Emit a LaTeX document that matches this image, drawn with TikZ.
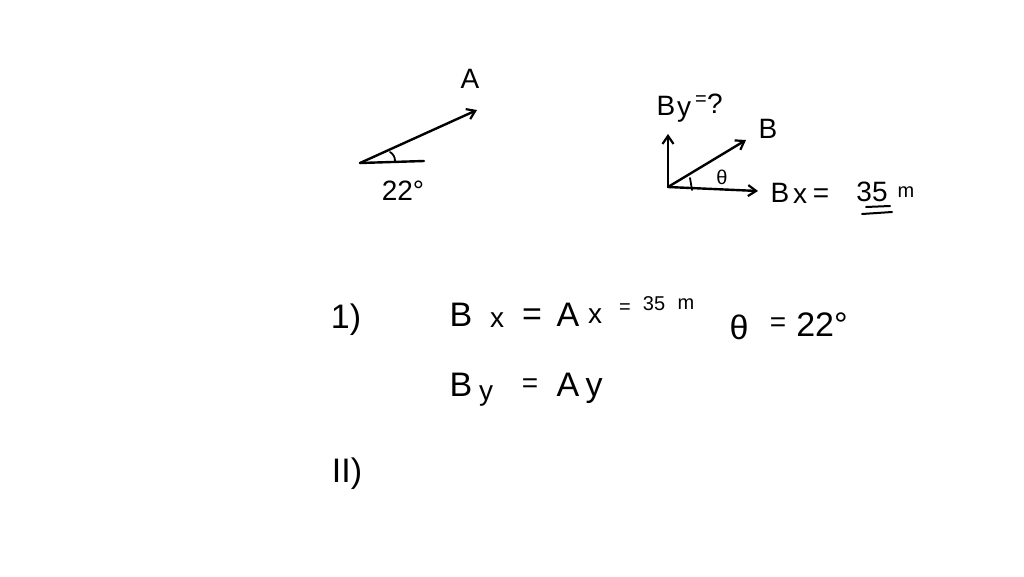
\documentclass[tikz,border=0pt]{standalone}
\usepackage{fontspec}
\setmainfont{Liberation Sans}
\usetikzlibrary{arrows.meta}
\tikzset{
  pen/.style={line width=2.4pt, line cap=round, line join=round, black},
  vec/.style={pen, -{Straight Barb[length=8pt,width=11pt,line width=2.2pt]}},
  big/.style={inner sep=0pt, font=\fontsize{34}{36}\selectfont},
  mid/.style={inner sep=0pt, font=\fontsize{28}{30}\selectfont},
  sml/.style={inner sep=0pt, font=\fontsize{20}{22}\selectfont},
}
\begin{document}
\begin{tikzpicture}[x=1pt,y=-1pt]
\useasboundingbox[fill=white] (0,0) rectangle (1024,576);

% ---- vector A ----
\coordinate (Ao) at (360,163);
\coordinate (Ahead) at (477,110);
\coordinate (Aref) at (424,161);
\draw[vec] (Ao) -- (Ahead);
\draw[pen] (Ao) -- (Aref);
\draw[pen, line width=1.8pt] (390,152) arc[start angle=60, end angle=-5, radius=10pt];
\node[mid] (lblA) at (470,79) {A};
\node[mid] (ang) at (403,191) {22°};

% ---- vector B ----
\coordinate (Bo) at (668,187);
\coordinate (Byh) at (668,134);
\coordinate (Bxh) at (758,191);
\coordinate (Bh) at (746,140);
\draw[vec] (Bo) -- (Byh);
\draw[vec] (Bo) -- (Bxh);
\draw[vec] (Bo) -- (Bh);
\draw[pen, line width=1.8pt] (690,178) -- (692,190);
\node[mid] (lblBy) at (666,106) {B};
\node[mid] (lblByy) at (684,112) {y};
\node[sml] (lblByeq) at (701,101) {=};
\node[mid] (lblByq) at (715,104) {?};
\node[mid] (lblB) at (768,129) {B};
\node[sml] (th) at (722,177) {θ};
\node[mid] (lblBx) at (780,193) {B};
\node[mid] (lblBxx) at (800,196) {x};
\node[mid] (lblBxeq) at (821,196) {=};
\node[mid] (val) at (872,192) {35};
\node[sml] (valm) at (906,192) {m};
\draw[pen, line width=2pt] (866,207) -- (890,206);
\draw[pen, line width=2pt] (862,214) -- (892,212);

% ---- part 1 ----
\node[big] (p1) at (346,320) {1)};
\node[big] (eqB) at (461,315) {B};
\node[mid] (eqBx) at (497,320) {x};
\node[big] (eq1) at (532,317) {=};
\node[big] (eqA) at (568,315) {A};
\node[mid] (eqAx) at (595,316) {x};
\node[sml] (eq2) at (625,309) {=};
\node[sml] (eq35) at (654,304) {35};
\node[sml] (eqm) at (686,304) {m};
\node[big] (eqth) at (739,327) {θ};
\node[mid] (eq3) at (778,325) {=};
\node[big] (eq22) at (822,325) {22°};

\node[big] (eqB2) at (461,385) {B};
\node[mid] (eqBy) at (486,396) {y};
\node[mid] (eq4) at (530,386) {=};
\node[big] (eqA2) at (568,385) {A};
\node[big] (eqAy) at (594,391) {y};

% ---- part 2 ----
\node[big] (p2) at (347,474) {II)};
\end{tikzpicture}
\end{document}
